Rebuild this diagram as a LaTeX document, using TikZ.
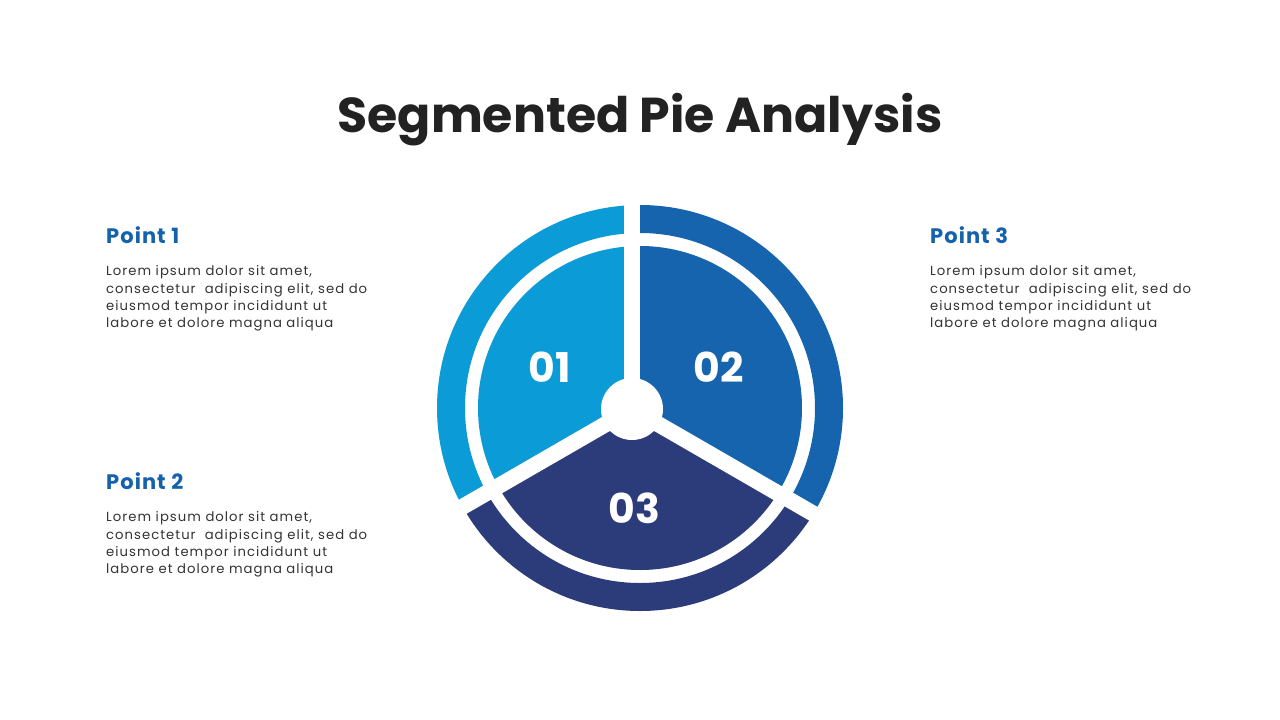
\documentclass[tikz,border=0pt]{standalone}
\usepackage{fontspec}
\setmainfont{Poppins}
\newfontfamily\bodyfont[LetterSpace=7.8]{Poppins}
\newfontfamily\headfont[LetterSpace=5]{Poppins}
\usetikzlibrary{positioning}
\definecolor{ink}{HTML}{222222}
\definecolor{bodyink}{HTML}{333333}
\definecolor{headblue}{HTML}{1461AC}
\definecolor{segone}{HTML}{0B9BD6}
\definecolor{segtwo}{HTML}{1564AD}
\definecolor{segthree}{HTML}{2C3B7A}

\begin{document}
\begin{tikzpicture}[x=1pt,y=-1pt,
  title/.style={font=\bfseries\fontsize{49}{49}\selectfont,text=ink,inner sep=0pt,anchor=base},
  head/.style={font=\headfont\bfseries\fontsize{21}{21}\selectfont,text=headblue,inner sep=0pt,anchor=base west},
  body/.style={font=\bodyfont\fontsize{13.2}{17.4}\selectfont,text=bodyink,inner sep=0pt,align=left},
  num/.style={font=\bfseries\fontsize{41}{41}\selectfont,text=white,inner sep=0pt},
  divider/.style={draw=white,line width=16pt}]
\path[use as bounding box,fill=white] (0,0) rectangle (1280,720);

\node[title] (title) at (640,132) {Segmented Pie Analysis};

% pie
\coordinate (pc) at (640,408);
\coordinate (hub) at (632,409);
\begin{scope}
  \clip (hub) -- +(150:400) -- +(210:500) -- +(270:400) -- cycle;
  \fill[segone] (pc) circle[radius=162];
  \fill[segone,even odd rule] (pc) circle[radius=203] (pc) circle[radius=175];
\end{scope}
\begin{scope}
  \clip (hub) -- +(270:400) -- +(330:500) -- +(30:400) -- cycle;
  \fill[segtwo] (pc) circle[radius=162];
  \fill[segtwo,even odd rule] (pc) circle[radius=203] (pc) circle[radius=175];
\end{scope}
\begin{scope}
  \clip (hub) -- +(30:400) -- +(90:500) -- +(150:400) -- cycle;
  \fill[segthree] (pc) circle[radius=162];
  \fill[segthree,even odd rule] (pc) circle[radius=203] (pc) circle[radius=175];
\end{scope}
\draw[divider] (hub) -- +(270:230);
\draw[divider] (hub) -- +(150:230);
\draw[divider] (hub) -- +(30:230);
\fill[white] (hub) circle[radius=31];

\node[num] (n1) at (550,367) {01};
\node[num] (n2) at (719,367) {02};
\node[num] (n3) at (634.5,508) {03};

% side texts
\node[head] (p1head) at (106,243) {Point 1};
\node[body,below right=22pt and 0pt of p1head.south west] (p1text) {Lorem ipsum dolor sit amet,\\
  consectetur\ \ adipiscing elit, sed do\\eiusmod tempor incididunt ut\\labore et dolore magna aliqua};
\node[head] (p2head) at (106,489) {Point 2};
\node[body,below right=22pt and 0pt of p2head.south west] (p2text) {Lorem ipsum dolor sit amet,\\
  consectetur\ \ adipiscing elit, sed do\\eiusmod tempor incididunt ut\\labore et dolore magna aliqua};
\node[head] (p3head) at (930,243) {Point 3};
\node[body,below right=22pt and 0pt of p3head.south west] (p3text) {Lorem ipsum dolor sit amet,\\
  consectetur\ \ adipiscing elit, sed do\\eiusmod tempor incididunt ut\\labore et dolore magna aliqua};
\end{tikzpicture}
\end{document}
